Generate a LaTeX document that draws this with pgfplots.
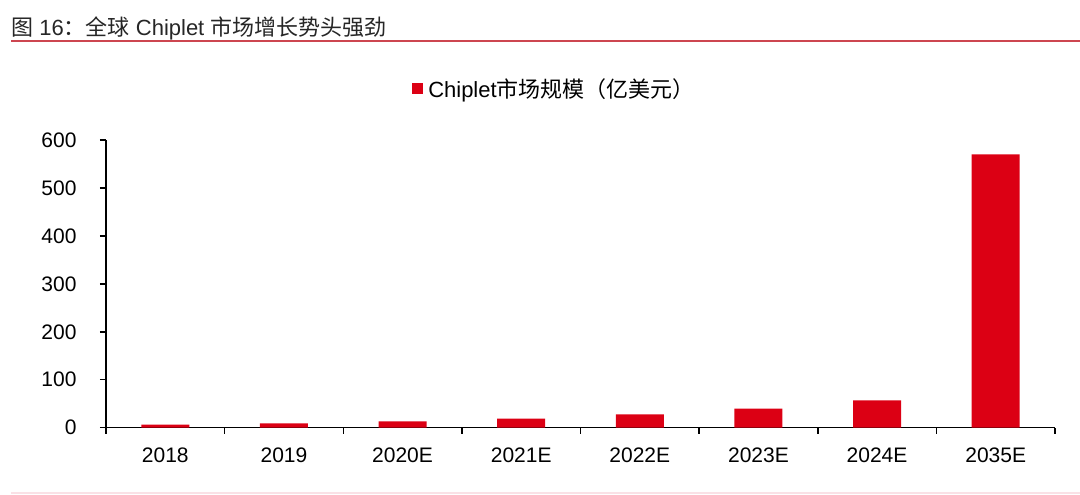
\documentclass[border=0pt]{standalone}
\usepackage{pgfplots}
\pgfplotsset{compat=1.18}
\usepackage{fontspec}
\setmainfont{Liberation Sans}
\newfontfamily\cjk{Noto Sans CJK SC}
\definecolor{barred}{RGB}{220,0,20}
\definecolor{titleline}{RGB}{205,70,80}
\definecolor{footline}{RGB}{250,225,230}
\begin{document}
\begin{tikzpicture}
  \path[use as bounding box] (0pt,0pt) rectangle (1080pt,495pt);
  % title and rules
  \node[anchor=west,inner sep=0pt,text=black!85,font=\fontsize{22}{26}\selectfont]
    at (11pt,467pt) {{\cjk 图} 16{\cjk ：全球} Chiplet {\cjk 市场增长势头强劲}};
  \draw[titleline,line width=1.5pt] (11pt,454pt) -- (1080pt,454pt);
  \draw[footline,line width=1.5pt] (11pt,2pt) -- (1080pt,2pt);
  \begin{axis}[
      at={(106pt,67.3pt)}, anchor=south west,
      scale only axis,
      width=949pt, height=287.7pt,
      style={/pgf/number format/assume math mode=true},
      ymin=0, ymax=600,
      ytick={0,100,...,600},
      xmin=-0.5, xmax=7.5,
      xtick={0,...,7},
      xticklabels={2018,2019,2020E,2021E,2022E,2023E,2024E,2035E},
      minor xtick={-0.5,0.5,...,7.5},
      major x tick style={draw=none},
      minor tick length=6pt,
      major tick length=6pt,
      tick align=outside,
      tick style={black,line width=1.5pt},
      axis x line*=bottom,
      axis y line*=left,
      axis line style={black,line width=1.5pt,-},
      ticklabel style={font=\fontsize{21}{25}\selectfont,text=black},
      yticklabel style={xshift=-20pt},
      xticklabel style={yshift=-11pt},
      bar width=48pt,
      legend style={at={(0.5,1.0)},anchor=south,xshift=-26pt,yshift=37pt,draw=none,
        font=\fontsize{22}{26}\selectfont\cjk,legend columns=1},
      legend image code/.code={\fill[barred] (0pt,-5.5pt) rectangle (11pt,5.5pt);},
    ]
    \addplot[ybar,fill=barred,draw=none] coordinates {
      (0,6.3) (1,9) (2,13) (3,19) (4,28) (5,40) (6,57) (7,570)
    };
    \legend{\hspace{3pt}{\fontspec{Liberation Sans}Chiplet}市场规模（亿美元）}
  \end{axis}
\end{tikzpicture}
\end{document}
